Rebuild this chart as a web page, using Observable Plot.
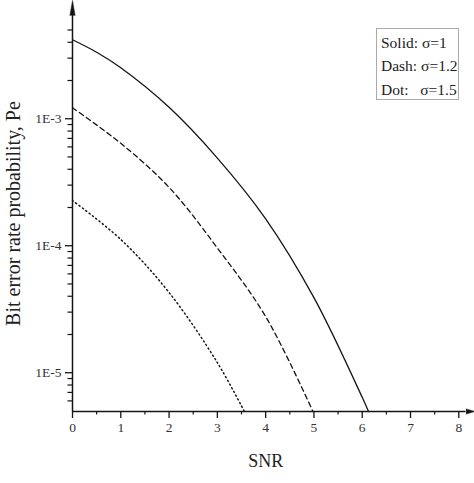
<!DOCTYPE html>
<html><head><meta charset="utf-8">
<script src="https://cdn.jsdelivr.net/npm/d3@7"></script>
<script src="https://cdn.jsdelivr.net/npm/@observablehq/plot@0.6"></script>
<style>
body{margin:0;background:#fff;}
#wrap{position:relative;width:474px;height:483px;}
#legend{position:absolute;left:376px;top:28px;width:83px;height:72px;border:1px solid #aaa;font-family:"Liberation Serif",serif;font-size:15.5px;color:#222;box-sizing:border-box;padding:2px 0 0 4px;line-height:23.3px;white-space:pre;}
</style></head><body><div id="wrap"><div id="legend"></div></div>
<script>
// Solid: sigma = 1
const snrSolid = [0, 0.5, 1, 2, 3, 4, 5, 6, 6.13];
const peSolid  = [4.19e-3, 3.34e-3, 2.52e-3, 1.23e-3, 4.9e-4, 1.63e-4, 3.9e-5, 6.4e-6, 4.95e-6];
// Dash: sigma = 1.2
const snrDash = [0, 1, 2, 3, 4, 4.98];
const peDash  = [1.22e-3, 6.4e-4, 2.88e-4, 9.6e-5, 2.77e-5, 4.95e-6];
// Dot: sigma = 1.5
const snrDot = [0, 1, 2, 3, 3.56];
const peDot  = [2.27e-4, 1.12e-4, 4.28e-5, 1.2e-5, 4.95e-6];

const xTicks = [0, 1, 2, 3, 4, 5, 6, 7, 8];
const xMinor = [0.5, 1.5, 2.5, 3.5, 4.5, 5.5, 6.5, 7.5];
const yMajor = [1e-3, 1e-4, 1e-5];
const yMajorLabels = ["1E-3", "1E-4", "1E-5"];
const yMinor = [6e-6, 7e-6, 8e-6, 9e-6, 2e-5, 3e-5, 4e-5, 5e-5, 6e-5, 7e-5, 8e-5, 9e-5,
                2e-4, 3e-4, 4e-4, 5e-4, 6e-4, 7e-4, 8e-4, 9e-4, 2e-3, 3e-3, 4e-3, 5e-3];
const xDomain = [0, 8];
const yDomain = [4.95e-6, 6.5e-3];
const xAxisEnd = 8.15;
const xLabel = "SNR";
const yLabel = "Bit error rate probability, Pe";
const legendLines = ["Solid: σ=1", "Dash: σ=1.2", "Dot:   σ=1.5"];

const rows = (xs, ys) => xs.map((x, i) => ({snr: x, pe: ys[i]}));
const ink = "#151515";

const plot = Plot.plot({
  width: 474, height: 483,
  marginLeft: 72, marginRight: 15.7, marginTop: 15, marginBottom: 72,
  style: {fontFamily: "'Liberation Serif', serif", fontSize: "13.5px", color: "#333", background: "white", overflow: "visible"},
  x: {domain: xDomain},
  y: {type: "log", domain: yDomain},
  marks: [
    Plot.axisX({ticks: xTicks, tickSize: 7, tickPadding: 4, tickFormat: d => String(d), label: null, stroke: ink, strokeWidth: 1.3}),
    Plot.axisX({ticks: xMinor, tickSize: 3.5, tickFormat: () => "", label: null, stroke: ink, strokeWidth: 1.2}),
    Plot.axisY({ticks: yMajor, tickSize: 7, tickPadding: 4, tickFormat: d => yMajorLabels[yMajor.indexOf(d)], label: null, stroke: ink, strokeWidth: 1.3}),
    Plot.axisY({ticks: yMinor, tickSize: 4.5, tickFormat: () => "", label: null, stroke: ink, strokeWidth: 1.2}),
    Plot.ruleX([0], {y1: yDomain[0], y2: yDomain[1], stroke: ink, strokeWidth: 1.5}),
    Plot.ruleY([yDomain[0]], {x1: 0, x2: xAxisEnd, stroke: ink, strokeWidth: 1.5}),
    Plot.vector([{x: 0, y: yDomain[1]}], {x: "x", y: "y", shape: "spike", anchor: "start", length: 15, r: 2.6, rotate: 0, fill: ink, stroke: ink, strokeWidth: 0.5}),
    Plot.vector([{x: xAxisEnd, y: yDomain[0]}], {x: "x", y: "y", shape: "spike", anchor: "start", length: 9, r: 2.6, rotate: 90, fill: ink, stroke: ink, strokeWidth: 0.5}),
    Plot.line(rows(snrSolid, peSolid), {x: "snr", y: "pe", stroke: ink, strokeWidth: 1.3, curve: "catmull-rom"}),
    Plot.line(rows(snrDash, peDash), {x: "snr", y: "pe", stroke: ink, strokeWidth: 1.3, strokeDasharray: "5,3.5", curve: "catmull-rom"}),
    Plot.line(rows(snrDot, peDot), {x: "snr", y: "pe", stroke: ink, strokeWidth: 1.5, strokeDasharray: "1.2,3", curve: "catmull-rom"}),
    Plot.text([yLabel], {text: d => d, frameAnchor: "left", dx: -59, rotate: -90, textAnchor: "middle", lineAnchor: "middle", fontSize: 20, fill: "#222"}),
    Plot.text([xLabel], {text: d => d, frameAnchor: "bottom", dy: 50, textAnchor: "middle", lineAnchor: "middle", fontSize: 18, fill: "#222"})
  ]
});
const wrap = document.getElementById("wrap");
wrap.insertBefore(plot, wrap.firstChild);
document.getElementById("legend").textContent = legendLines.join("\n");
</script>
</body></html>
